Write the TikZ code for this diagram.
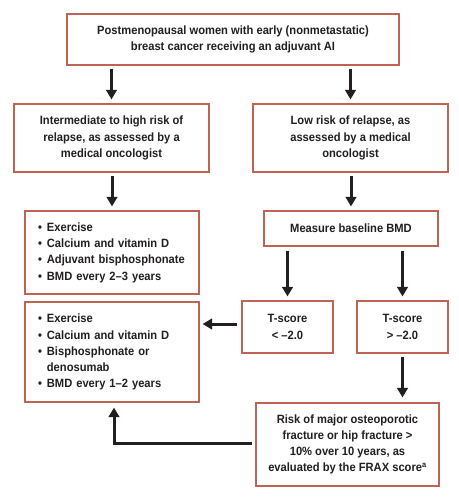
\documentclass[tikz,border=0pt]{standalone}
\usepackage{fontspec}
\setmainfont[FakeStretch=0.93]{Liberation Sans}
\usetikzlibrary{arrows.meta,calc}
\definecolor{boxred}{RGB}{190,100,85}
\definecolor{ink}{RGB}{35,31,32}
\tikzset{
  box/.style={draw=boxred, line width=1.1pt, fill=white, text=ink, inner sep=0pt,
    font=\fontsize{12}{16.2}\selectfont\bfseries, align=center},
  arr/.style={draw=ink, line width=3pt, -{Triangle[width=10.5pt,length=9.5pt]}},
}
\begin{document}
\begin{tikzpicture}[x=1pt,y=-1pt]
\useasboundingbox (0,0) rectangle (458,498);
\node[box, minimum width=332pt, minimum height=51pt] (top) at (233,39.5)
  {Postmenopausal women with early (nonmetastatic)\\breast cancer receiving an adjuvant AI};
\node[box, minimum width=195pt, minimum height=68pt] (inter) at (111.5,138)
  {Intermediate to high risk of\\relapse, as assessed by a\\medical oncologist};
\node[box, minimum width=195pt, minimum height=68pt] (low) at (350.5,138)
  {Low risk of relapse, as\\assessed by a medical\\oncologist};
\node[box, minimum width=174pt, minimum height=83pt, text width=148pt, align=left] (ex1) at (112,252.5)
  {\begin{tabular}{@{}l@{\hspace{5pt}}l@{}}
  • & Exercise\\
  • & Calcium and vitamin D\\
  • & Adjuvant bisphosphonate\\
  • & BMD every 2–3 years
  \end{tabular}};
\node[box, minimum width=174pt, minimum height=35pt] (meas) at (351,228.5)
  {Measure baseline BMD};
\node[box, minimum width=91pt, minimum height=52pt] (t1) at (287.5,327)
  {T-score\\< –2.0};
\node[box, minimum width=91pt, minimum height=52pt] (t2) at (402.5,327)
  {T-score\\> –2.0};
\node[box, minimum width=174pt, minimum height=100pt, text width=148pt, align=left] (ex2) at (112,352)
  {\begin{tabular}{@{}l@{\hspace{5pt}}l@{}}
  • & Exercise\\
  • & Calcium and vitamin D\\
  • & Bisphosphonate or\\
    & denosumab\\
  • & BMD every 1–2 years
  \end{tabular}};
\node[box, minimum width=183pt, minimum height=83pt] (risk) at (347.5,444.5)
  {Risk of major osteoporotic\\fracture or hip fracture >\\10\% over 10 years, as\\evaluated by the FRAX score\textsuperscript{a}};
\draw[arr, shorten <=3pt, shorten >=4pt] (inter.north |- top.south) -- (inter.north);
\draw[arr, shorten <=3pt, shorten >=4pt] (low.north |- top.south) -- (low.north);
\draw[arr, shorten <=3pt, shorten >=4pt] (ex1.north |- inter.south) -- (ex1.north);
\draw[arr, shorten <=3pt, shorten >=4pt] (meas.north |- low.south) -- (meas.north);
\draw[arr, shorten <=4pt, shorten >=4pt] (t1.north |- meas.south) -- (t1.north);
\draw[arr, shorten <=4pt, shorten >=4pt] (t2.north |- meas.south) -- (t2.north);
\draw[arr, shorten <=4pt, shorten >=3pt] ([yshift=3pt]t1.west) -- ([yshift=3pt]ex2.east |- t1.west);
\draw[arr, shorten <=3pt, shorten >=5pt] (t2.south) -- (t2.south |- risk.north);
\draw[arr, shorten <=3pt, shorten >=5pt] ([yshift=1.5pt]risk.west) -| ([xshift=2pt]ex2.south);
\end{tikzpicture}
\end{document}
